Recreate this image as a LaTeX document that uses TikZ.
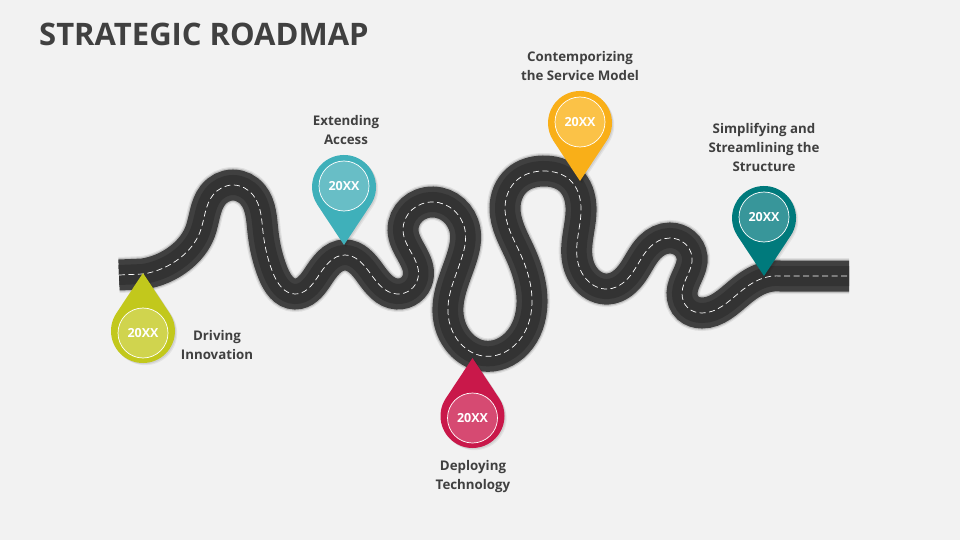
\documentclass[tikz,border=0pt]{standalone}
\usepackage{fontspec}
\usetikzlibrary{hobby}
\setmainfont{Open Sans}
\definecolor{bgc}{HTML}{F2F2F2}
\definecolor{roadout}{HTML}{404040}
\definecolor{roadin}{HTML}{333333}
\definecolor{txt}{HTML}{404040}
\definecolor{cgreen}{HTML}{C2C81C}\definecolor{cgreenl}{HTML}{D0D44E}
\definecolor{cteal}{HTML}{3FB0BA}\definecolor{ctealtl}{HTML}{68BEC6}
\definecolor{cred}{HTML}{C9184A}\definecolor{credl}{HTML}{D64A72}
\definecolor{cyel}{HTML}{F9AF18}\definecolor{cyell}{HTML}{FBC247}
\definecolor{cdteal}{HTML}{007A7C}\definecolor{cdteall}{HTML}{38969A}
\tikzset{
  lab/.style={text=txt,font=\bfseries\fontsize{13.3}{19}\selectfont,align=center,inner sep=0pt},
  yr/.style={text=white,font=\bfseries\fontsize{12.5}{14}\selectfont,inner sep=0pt},
  ttl/.style={text=txt,font=\bfseries\fontsize{31}{36}\selectfont,inner sep=0pt,anchor=west},
  ring/.style={draw=white,line width=.7pt},
}
\def\roadpath{(119,275) -- (143,274) .. (180,258) .. (200,232) .. (213,195) .. (233,185) .. (253,195) .. (263,232) .. (273,273) .. (295,294) .. (317,278) .. (345,255) .. (370,273) .. (397,294) .. (418,278) .. (403,230) .. (433,202) .. (465,230) .. (462,257) .. (448,313) .. (460,343) .. (483,356) .. (517,343) .. (532,303) .. (520,253) .. (505,208) .. (517,180) .. (543,171) .. (570,180) .. (581,207) .. (577,257) .. (587,280) .. (608,289) .. (633,272) .. (650,247) .. (670,238) .. (692,257) .. (682,293) .. (688,308) .. (702,313) .. (740,292) .. (767,277) .. (780,276) -- (849,276)}
% #1 cx, #2 cy, #3 rotation (0: tip below), #4 dist to tip, #5 outer, #6 inner, #7 inner dy, #8 name
\newcommand\mypin[8]{%
  \begin{scope}[shift={(#1,#2)},x=1pt,y=1pt]
    \foreach \o/\s in {.06/2.2,.08/1.2}{%
      \fill[black,opacity=\o,shift={(\s pt,-\s pt)},rotate=#3] (0,-#4) -- ({32*cos(-90+56.5)},{32*sin(-90+56.5)}) arc[start angle=-33.5,end angle=213.5,radius=32] -- cycle;}
    \fill[#5,rotate=#3] (0,-#4) -- ({32*cos(-90+56.5)},{32*sin(-90+56.5)}) arc[start angle=-33.5,end angle=213.5,radius=32] -- cycle;
    \node[circle,ring,fill=#6,minimum size=50pt,inner sep=0pt] (#8) at (0,#7) {};
  \end{scope}}
\begin{document}
\begin{tikzpicture}[x=1pt,y=-1pt,use Hobby shortcut]
\useasboundingbox (0,0) rectangle (960,540);
\fill[bgc] (0,0) rectangle (960,540);
\node[ttl] (title) at (39,34) {STRATEGIC ROADMAP};
% road
\draw[black,opacity=.07,line width=36pt] \roadpath;
\draw[black,opacity=.14,line width=33.5pt] \roadpath;
\draw[roadout,line width=31pt] \roadpath;
\draw[roadin,line width=20pt] \roadpath;
\draw[white,line width=.7pt,dash pattern=on 6pt off 3.5pt] \roadpath;
% pins
\mypin{143}{331}{180}{58}{cgreen}{cgreenl}{-2}{pa}
\mypin{344}{187}{0}{58}{cteal}{ctealtl}{1}{pb}
\mypin{472.5}{416}{180}{58}{cred}{credl}{-2}{pc}
\mypin{580}{123}{0}{58}{cyel}{cyell}{1}{pd}
\mypin{764}{218}{0}{58}{cdteal}{cdteall}{1}{pe}
\node[yr] (ya) at (pa) {20XX};
\node[yr] (yb) at (pb) {20XX};
\node[yr] (yc) at (pc) {20XX};
\node[yr] (yd) at (pd) {20XX};
\node[yr] (ye) at (pe) {20XX};
% labels
\node[lab] (la) at (217,345.5) {Driving\\Innovation};
\node[lab] (lb) at (346,130.5) {Extending\\Access};
\node[lab] (lc) at (473,476.5) {Deploying\\Technology};
\node[lab] (ld) at (580,66.5) {Contemporizing\\the Service Model};
\node[lab] (le) at (764,147) {Simplifying and\\Streamlining the\\Structure};
\end{tikzpicture}
\end{document}
